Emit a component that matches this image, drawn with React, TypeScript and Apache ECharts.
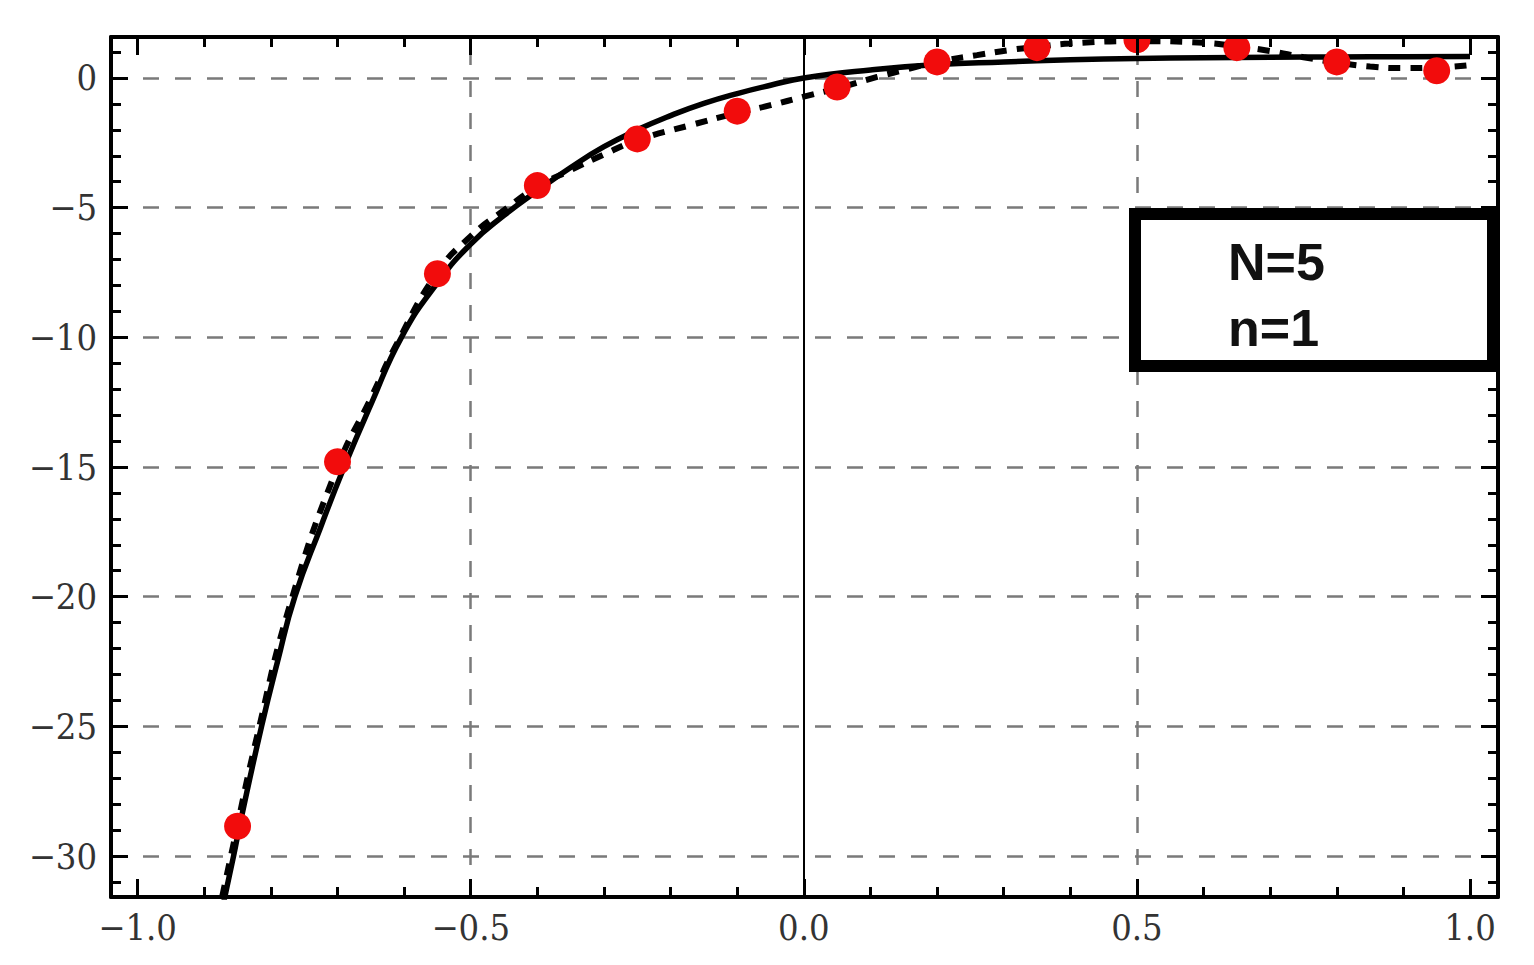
import React, { useEffect, useRef } from "react";
import * as echarts from "echarts";

// ---- axis ranges & ticks ----
const X_MIN = -1.04;
const X_MAX = 1.042;
const Y_MIN = -31.58;
const Y_MAX = 1.58;
const X_TICKS = [-1, -0.5, 0, 0.5, 1];
const X_MINOR_TICKS = [-1, -0.9, -0.8, -0.7, -0.6, -0.5, -0.4, -0.3, -0.2, -0.1, 0, 0.1, 0.2, 0.3, 0.4, 0.5, 0.6, 0.7, 0.8, 0.9, 1];
const Y_TICKS = [0, -5, -10, -15, -20, -25, -30];
const Y_MINOR_TICKS = [1, 0, -1, -2, -3, -4, -5, -6, -7, -8, -9, -10, -11, -12, -13, -14, -15, -16, -17, -18, -19, -20, -21, -22, -23, -24, -25, -26, -27, -28, -29, -30, -31];
const GRID_X = [-0.5, 0.5];
const GRID_Y = [0, -5, -10, -15, -20, -25, -30];

// ---- solid curve ----
const SOLID_X = [-0.876, -0.856, -0.845, -0.814, -0.79, -0.764, -0.725, -0.69, -0.65, -0.604, -0.55, -0.5, -0.45, -0.4, -0.35, -0.3, -0.25, -0.2, -0.15, -0.1, -0.05, 0, 0.1, 0.2, 0.3, 0.4, 0.5, 0.6, 0.7, 0.8, 0.9, 1.0];
const SOLID_Y = [-32.4, -30.0, -28.6, -25.0, -22.5, -20.0, -17.3, -15.0, -12.6, -10.0, -7.9, -6.4, -5.3, -4.35, -3.45, -2.65, -2.0, -1.45, -0.98, -0.6, -0.28, 0, 0.31, 0.52, 0.62, 0.7, 0.75, 0.78, 0.8, 0.81, 0.82, 0.83];

// ---- dashed curve ----
const DASH_X = [-0.88, -0.86, -0.82, -0.77, -0.7, -0.65, -0.61, -0.55, -0.5, -0.45, -0.4, -0.35, -0.3, -0.25, -0.17, -0.1, -0.05, 0, 0.05, 0.11, 0.15, 0.2, 0.26, 0.31, 0.35, 0.4, 0.5, 0.6, 0.65, 0.7, 0.75, 0.8, 0.85, 0.9, 0.95, 1.0];
const DASH_Y = [-32.4, -30.0, -25.3, -20.2, -15.0, -12.35, -10.2, -7.5, -6.1, -5.1, -4.2, -3.55, -2.95, -2.4, -1.82, -1.35, -1.05, -0.72, -0.4, 0.04, 0.3, 0.62, 0.88, 1.08, 1.2, 1.33, 1.42, 1.36, 1.22, 1.04, 0.8, 0.6, 0.44, 0.38, 0.4, 0.5];

// ---- red points ----
const DOT_X = [-0.85, -0.7, -0.55, -0.4, -0.25, -0.1, 0.05, 0.2, 0.35, 0.5, 0.65, 0.8, 0.95];
const DOT_Y = [-28.85, -14.8, -7.55, -4.15, -2.35, -1.28, -0.35, 0.62, 1.17, 1.47, 1.17, 0.62, 0.28];

const LEGEND_LINES = ["N=5", "n=1"];

const zip = (xs: number[], ys: number[]) => xs.map((x, i) => [x, ys[i]]);
const minus = (s: string) => s.replace("-", "\u2212");

const LABEL_FONT = "'DejaVu Serif Condensed', 'Liberation Sans Narrow', serif";

export default function App() {
  const ref = useRef<HTMLDivElement>(null);

  useEffect(() => {
    document.body.style.margin = "0";
    if (!ref.current) return;
    const chart = echarts.init(ref.current, null, { renderer: "svg" });

    const frameLine = { show: true, onZero: false, lineStyle: { color: "#000", width: 4 } };
    const noLine = { show: false, onZero: false };
    const tick = (vals: number[], len: number) => ({
      show: true,
      inside: true,
      length: len,
      customValues: vals,
      lineStyle: { color: "#000", width: 3 },
    });
    const xLab = {
      show: true,
      customValues: X_TICKS,
      formatter: (v: number) => minus(v.toFixed(1)),
      fontFamily: LABEL_FONT,
      fontSize: 36,
      color: "#333",
      margin: 12,
    };
    const yLab = {
      show: true,
      customValues: Y_TICKS,
      formatter: (v: number) => minus(String(v)),
      fontFamily: LABEL_FONT,
      fontSize: 36,
      color: "#333",
      margin: 14,
    };
    const xBase = { type: "value", min: X_MIN, max: X_MAX, splitLine: { show: false }, z: 20 };
    const yBase = { type: "value", min: Y_MIN, max: Y_MAX, splitLine: { show: false }, z: 20 };

    const gridMarks = [
      ...GRID_X.map((v) => ({ xAxis: v })),
      ...GRID_Y.map((v) => ({ yAxis: v })),
    ];

    const option: any = {
      animation: false,
      backgroundColor: "#fff",
      grid: { left: 111, right: 36, top: 37, bottom: 68 },
      xAxis: [
        { ...xBase, position: "bottom", axisLine: frameLine, axisTick: tick(X_TICKS, 18), axisLabel: xLab },
        { ...xBase, position: "bottom", axisLine: noLine, axisTick: tick(X_MINOR_TICKS, 10), axisLabel: { show: false } },
        { ...xBase, position: "top", axisLine: frameLine, axisTick: tick(X_TICKS, 18), axisLabel: { show: false } },
        { ...xBase, position: "top", axisLine: noLine, axisTick: tick(X_MINOR_TICKS, 10), axisLabel: { show: false } },
      ],
      yAxis: [
        { ...yBase, position: "left", axisLine: frameLine, axisTick: tick(Y_TICKS, 17), axisLabel: yLab },
        { ...yBase, position: "left", axisLine: noLine, axisTick: tick(Y_MINOR_TICKS, 10), axisLabel: { show: false } },
        { ...yBase, position: "right", axisLine: frameLine, axisTick: tick(Y_TICKS, 17), axisLabel: { show: false } },
        { ...yBase, position: "right", axisLine: noLine, axisTick: tick(Y_MINOR_TICKS, 10), axisLabel: { show: false } },
      ],
      series: [
        {
          type: "line",
          name: "solid",
          xAxisIndex: 0,
          yAxisIndex: 0,
          data: zip(SOLID_X, SOLID_Y),
          smooth: 0.5,
          showSymbol: false,
          symbol: "none",
          clip: true,
          z: 6,
          lineStyle: { color: "#000", width: 5.5 },
          markLine: {
            silent: true,
            symbol: ["none", "none"],
            z: 1,
            label: { show: false },
            lineStyle: { color: "#7a7a7a", width: 2.5, type: [16, 16] },
            data: [
              ...gridMarks,
              { xAxis: 0, lineStyle: { color: "#000", width: 2, type: "solid" } },
            ],
          },
        },
        {
          type: "line",
          name: "dashed",
          xAxisIndex: 0,
          yAxisIndex: 0,
          data: zip(DASH_X, DASH_Y),
          smooth: 0.5,
          showSymbol: false,
          symbol: "none",
          clip: true,
          z: 7,
          lineStyle: { color: "#000", width: 6, type: [12, 10] },
        },
        {
          type: "scatter",
          name: "points",
          xAxisIndex: 0,
          yAxisIndex: 0,
          data: zip(DOT_X, DOT_Y),
          symbol: "circle",
          symbolSize: 27,
          z: 8,
          itemStyle: { color: "#f20c0c", opacity: 1 },
        },
      ],
      graphic: [
        { type: "rect", z: 15, silent: true, shape: { x: 0, y: 0, width: 1534, height: 35 }, style: { fill: "#fff" } },
        {
          type: "rect",
          z: 50,
          silent: true,
          shape: { x: 1135, y: 214, width: 358, height: 152 },
          style: { fill: "#fff", stroke: "#000", lineWidth: 12 },
        },
        {
          type: "text",
          z: 51,
          x: 1228,
          y: 262,
          style: { text: LEGEND_LINES[0], font: "bold 52px 'Liberation Sans', Arial, sans-serif", fill: "#111", verticalAlign: "middle" },
        },
        {
          type: "text",
          z: 51,
          x: 1228,
          y: 328,
          style: { text: LEGEND_LINES[1], font: "bold 52px 'Liberation Sans', Arial, sans-serif", fill: "#111", verticalAlign: "middle" },
        },
      ],
    };

    chart.setOption(option);
    return () => chart.dispose();
  }, []);

  return <div ref={ref} style={{ width: 1534, height: 965 }} />;
}
